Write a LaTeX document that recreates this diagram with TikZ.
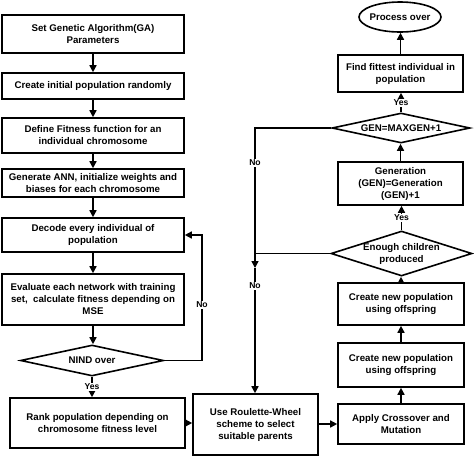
\documentclass[tikz,border=0pt]{standalone}
\usepackage{fontspec}
\setmainfont{Liberation Sans}
\usetikzlibrary{shapes.geometric,arrows.meta}
\tikzset{
  box/.style={draw, line width=1.6pt, rectangle, inner sep=0pt, align=center, font=\bfseries\fontsize{9.7}{12}\selectfont},
  dia/.style={draw, line width=1.6pt, diamond, inner sep=0pt},
  ell/.style={draw, line width=1.6pt, ellipse, inner sep=0pt},
  lbl/.style={align=center, font=\bfseries\fontsize{9.7}{12}\selectfont, inner sep=0pt},
  yn/.style={fill=white, inner sep=1pt, font=\bfseries\fontsize{8.6}{10}\selectfont},
  arr/.style={line width=1.5pt, -{Triangle[width=7pt,length=7pt]}},
  ln/.style={line width=1.5pt},
}
\begin{document}
\begin{tikzpicture}[x=1pt,y=-1pt]
\useasboundingbox (0,0) rectangle (474,456);
% left column
\node[box, minimum width=182pt, minimum height=38pt] (b1) at (93,34) {Set Genetic Algorithm(GA)\\Parameters};
\node[box, minimum width=182pt, minimum height=26pt] (b2) at (93,86) {Create initial population randomly};
\node[box, minimum width=182pt, minimum height=35pt] (b3) at (93,135.5) {Define Fitness function for an\\individual chromosome};
\node[box, minimum width=182pt, minimum height=28pt] (b4) at (93,183) {Generate ANN, initialize weights and\\biases for each chromosome};
\node[box, minimum width=182pt, minimum height=34pt] (b5) at (93,235) {Decode every individual of\\population};
\node[box, minimum width=182pt, minimum height=51pt] (b6) at (93,299.5) {Evaluate each network with training\\set,\ \ calculate fitness depending on\\MSE};
\node[dia, minimum width=143pt, minimum height=31pt] (d1) at (92,360.5) {};
\node[lbl] at (d1) {NIND over};
\node[box, minimum width=175pt, minimum height=50pt] (b7) at (97.5,423) {Rank population depending on\\chromosome fitness level};
% middle
\node[box, minimum width=125pt, minimum height=61pt] (b8) at (255.5,424.5) {Use Roulette-Wheel\\scheme to select\\suitable parents};
% right column
\node[box, minimum width=126pt, minimum height=40pt] (b9) at (401,424) {Apply Crossover and\\Mutation};
\node[box, minimum width=126pt, minimum height=44pt] (b10) at (401,365) {Create new population\\using offspring};
\node[box, minimum width=126pt, minimum height=42pt] (b11) at (401,304) {Create new population\\using offspring};
\node[dia, minimum width=141pt, minimum height=45pt] (d2) at (401.5,253.5) {};
\node[lbl] at (d2) {Enough children\\produced};
\node[box, minimum width=125pt, minimum height=43pt] (b12) at (400.5,183.5) {Generation\\(GEN)=Generation\\(GEN)+1};
\node[dia, minimum width=138pt, minimum height=30pt] (d3) at (401,128) {};
\node[lbl] at (d3) {GEN=MAXGEN+1};
\node[box, minimum width=125pt, minimum height=37pt] (b13) at (400.5,73.5) {Find fittest individual in\\population};
\node[ell, minimum width=82pt, minimum height=30pt] (e1) at (400,17) {};
\node[lbl] at (e1) {Process over};
% coordinates
\coordinate (c1) at (255,128);
\coordinate (c2) at (255,253.5);
\coordinate (c3) at (255,268);
\coordinate (n1) at (202,360.5);
\coordinate (n2) at (202,235);
% connectors left
\draw[arr] (b1) -- (b2);
\draw[arr] (b2) -- (b3);
\draw[arr] (b3) -- (b4);
\draw[arr] (b4) -- (b5);
\draw[arr] (b5) -- (b6);
\draw[arr] (b6.south) -- (b6.south |- d1.north);
\draw[arr] (d1.south) -- (d1.south |- b7.north) node[midway, yn] {Yes};
\draw[arr] (d1.east) -- (n1) -- (n2) -- (b5.east);
\node[yn] at (202,305) {No};
% bottom row
\draw[arr] (b7.east) -- (b7.east -| b8.west);
\draw[arr] (b8.east |- b9.west) -- (b9.west);
% right column
\draw[arr] (b9) -- (b10);
\draw[arr] (b10) -- (b11);
\draw[arr] (b11.north) -- (b11.north |- d2.south);
\draw[arr] (d2.north) -- (d2.north |- b12.south) node[midway, yn] {Yes};
\draw[arr] (b12.north) -- (b12.north |- d3.south);
\draw[arr] (d3.north) -- (d3.north |- b13.south) node[midway, yn] {Yes};
\draw[arr] (b13.north) -- (b13.north |- e1.south);
% loop back
\draw[arr] (d3.west) -- (c1) -- (c3);
\draw[ln] (d2.west) -- (c2);
\draw[arr] (c3) -- (c3 |- b8.north);
\node[yn] at (255,163) {No};
\node[yn] at (255,286) {No};
\end{tikzpicture}
\end{document}
